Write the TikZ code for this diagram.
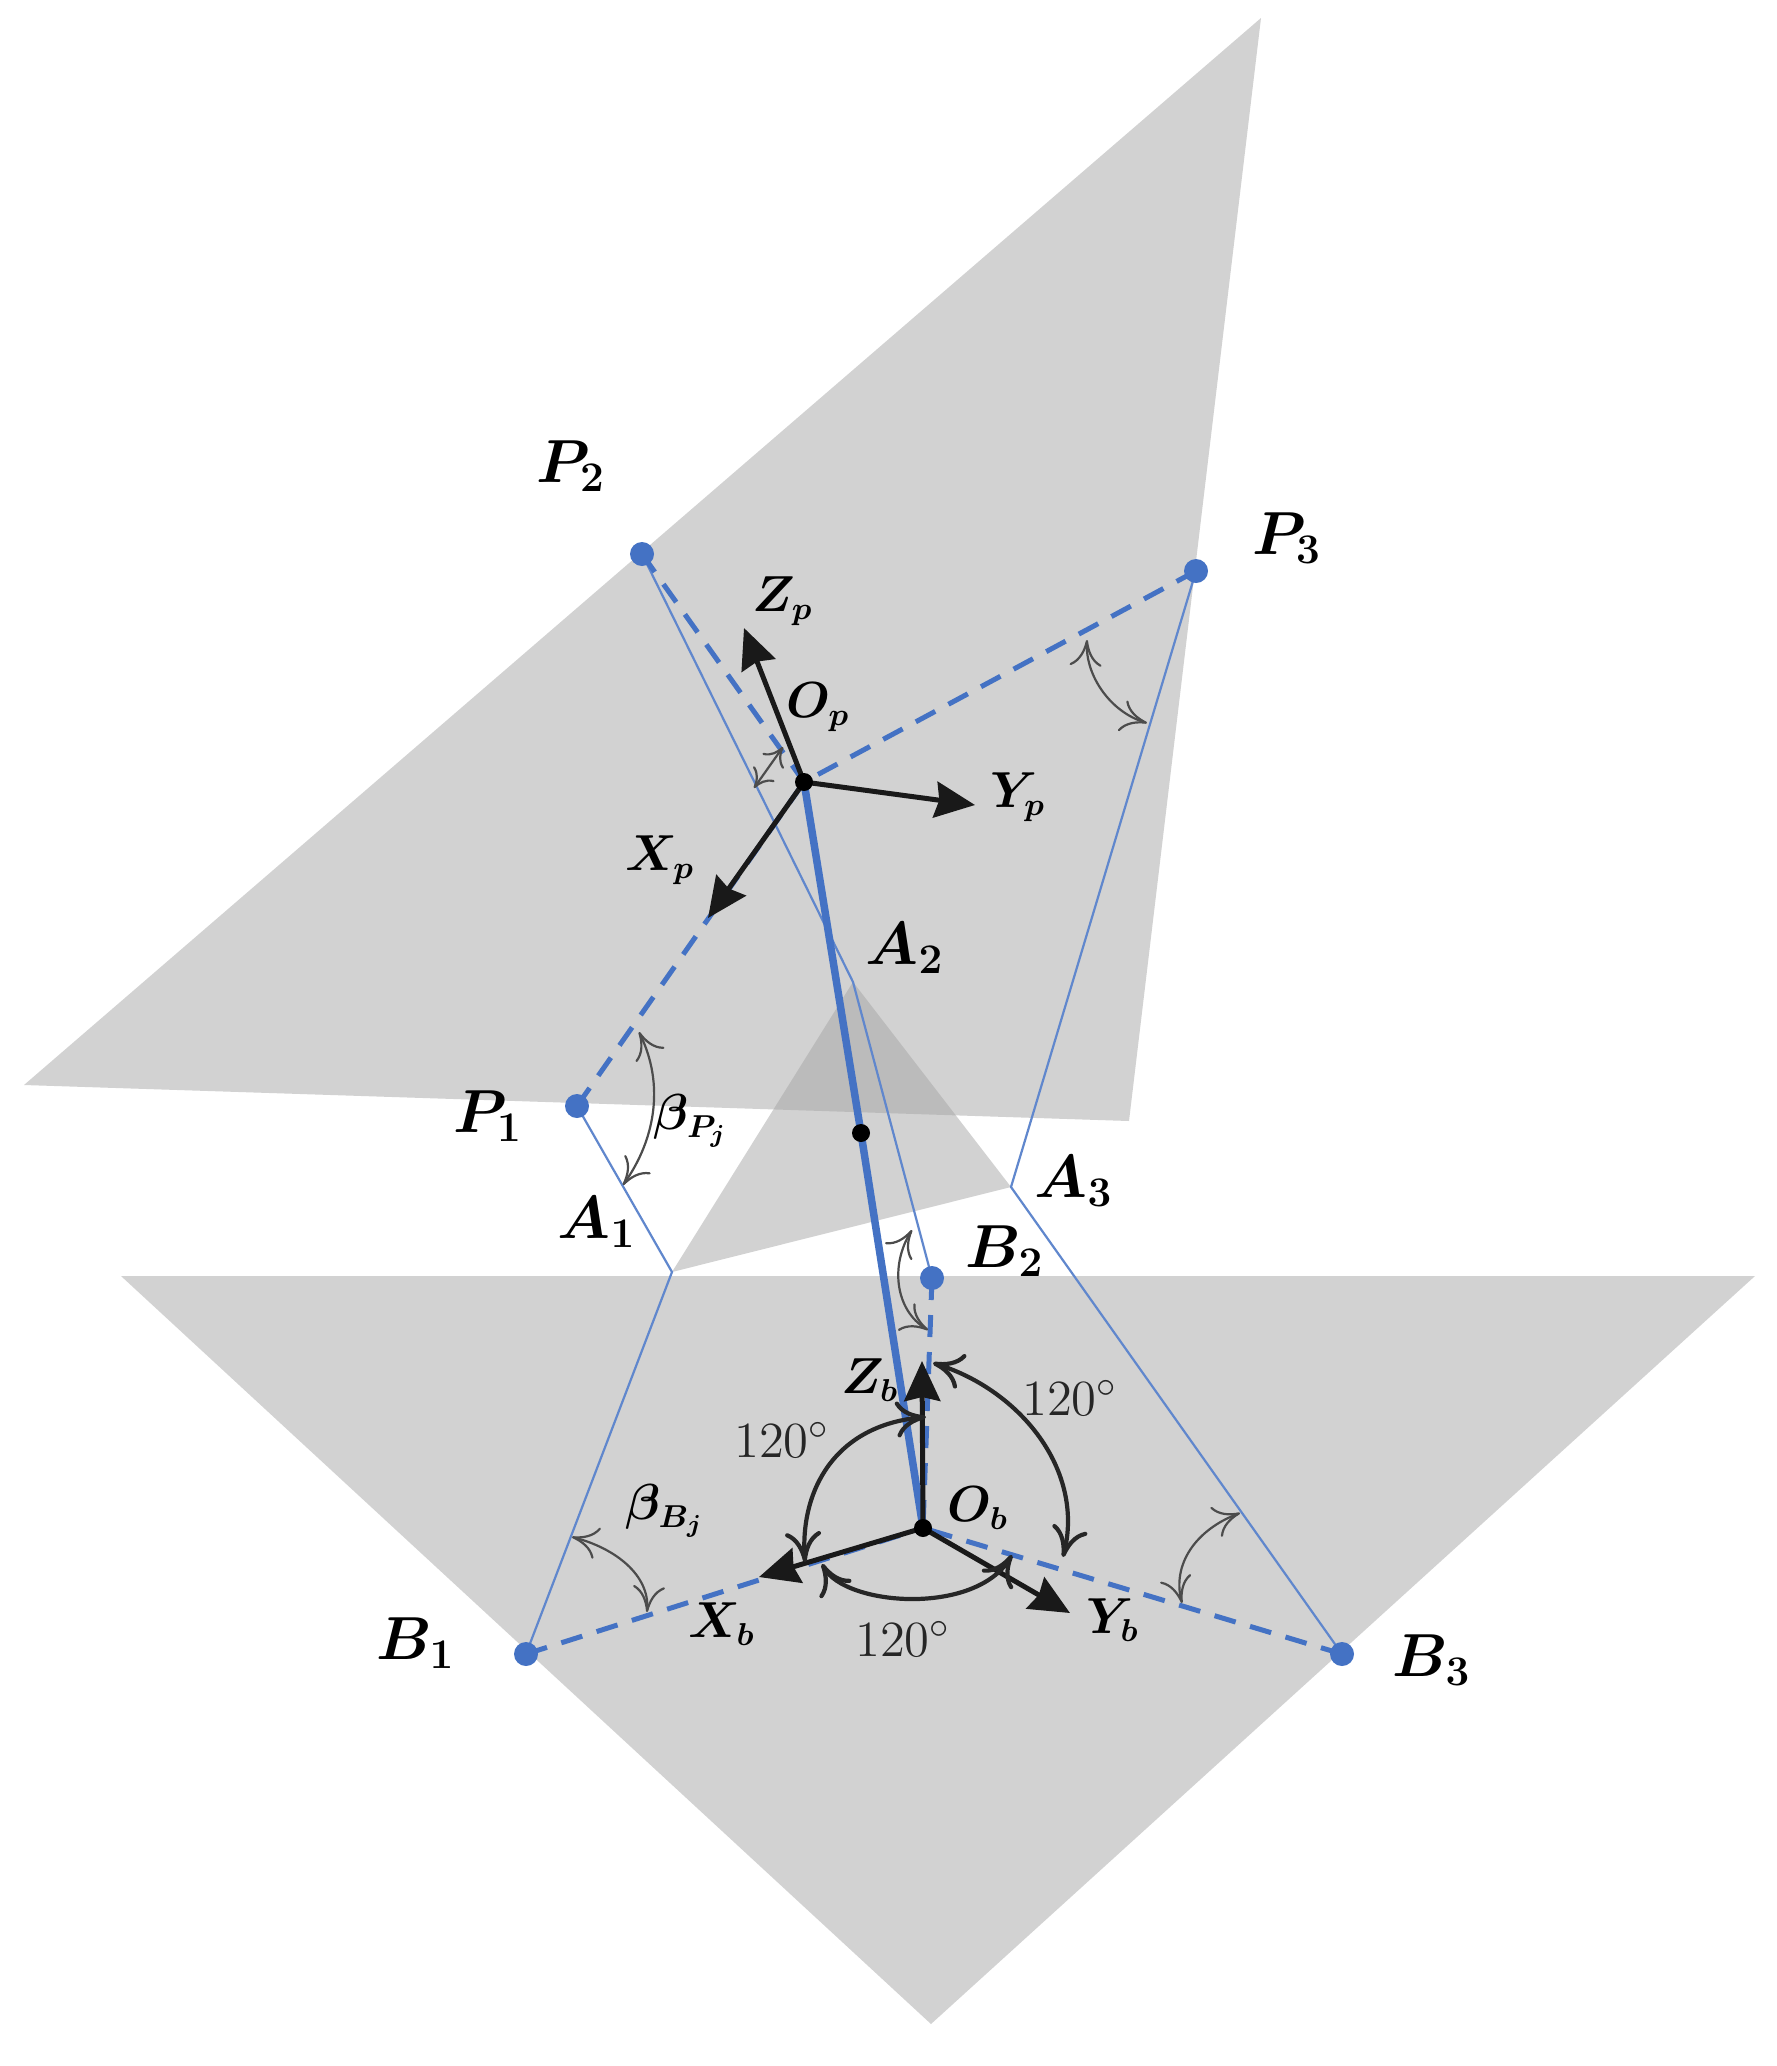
\documentclass[tikz,border=0pt]{standalone}
\usepackage{bm}
\usetikzlibrary{arrows.meta}
\definecolor{platefill}{HTML}{D2D2D2}
\definecolor{plateover}{HTML}{BBBBBB}
\definecolor{legblue}{HTML}{4472C4}
\tikzset{
	plate/.style={fill=platefill},
	thinleg/.style={color=legblue!85, line width=0.22mm},
	dashleg/.style={color=legblue, line width=0.5mm, dash pattern=on 2.2mm off 1.5mm},
	mainleg/.style={color=legblue, line width=0.75mm},
	axisarrow/.style={-{Stealth[length=4mm,width=3.6mm,inset=0.4mm]}, line width=0.5mm, color=black!90},
	bigangle/.style={{To[length=3mm,width=3.6mm]}-{To[length=3mm,width=3.6mm]}, line width=0.42mm, color=black!85},
	smallangle/.style={{To[length=2.6mm,width=3.2mm]}-{To[length=2.6mm,width=3.2mm]}, line width=0.22mm, color=black!70},
	tinyangle/.style={{To[length=1.8mm,width=2.6mm]}-{To[length=1.8mm,width=2.6mm]}, line width=0.22mm, color=black!70},
	bigname/.style={font=\fontsize{16.5}{19}\selectfont},
	axisname/.style={font=\fontsize{13.5}{16}\selectfont},
	degname/.style={font=\fontsize{15}{17}\selectfont, color=black!85},
}
\begin{document}
\begin{tikzpicture}[x=0.01cm, y=-0.01cm]
		%%%%% START %%%%%
		\useasboundingbox (0, 0) rectangle (1777, 2066);
		\fill[white] (0, 0) rectangle (1777, 2066);
		
		\coordinate (P1) at (577, 1106);
		\coordinate (P2) at (642, 554);
		\coordinate (P3) at (1196, 571);
		\coordinate (A1) at (672, 1272);
		\coordinate (A2) at (853, 982);
		\coordinate (A3) at (1011, 1187);
		\coordinate (B1) at (526, 1654);
		\coordinate (B2) at (932, 1278);
		\coordinate (B3) at (1342, 1654);
		\coordinate (Op) at (804, 782);
		\coordinate (Ob) at (923, 1528);
		\coordinate (Mid) at (861, 1133);
		
		% plates
		\fill[plate] (1261, 18) -- (24, 1085) -- (1129, 1121) -- cycle;
		\fill[plate] (121, 1276) -- (1755, 1276) -- (931, 2024) -- cycle;
		\fill[plate] (A2) -- (A1) -- (A3) -- cycle;
		\begin{scope}
			\clip (1261, 18) -- (24, 1085) -- (1129, 1121) -- cycle;
			\fill[plateover] (A2) -- (A1) -- (A3) -- cycle;
		\end{scope}
		
		% legs
		\draw[thinleg] (P1) -- (A1) -- (B1);
		\draw[thinleg] (P2) -- (A2) -- (B2);
		\draw[thinleg] (P3) -- (A3) -- (B3);
		\draw[dashleg] (P1) -- (Op);
		\draw[dashleg] (P2) -- (Op);
		\draw[dashleg] (P3) -- (Op);
		\draw[dashleg] (B1) -- (Ob);
		\draw[dashleg] (B2) -- (Ob);
		\draw[dashleg] (B3) -- (Ob);
		\draw[mainleg] (Op) -- (Mid) -- (Ob);
		
		% frames
		\coordinate (Xptip) at (708, 918);
		\coordinate (Yptip) at (975, 805);
		\coordinate (Zptip) at (744, 628);
		\coordinate (Xbtip) at (759, 1577);
		\coordinate (Ybtip) at (1070, 1613);
		\coordinate (Zbtip) at (922, 1361);
		\draw[axisarrow] (Op) -- (Xptip);
		\draw[axisarrow] (Op) -- (Yptip);
		\draw[axisarrow] (Op) -- (Zptip);
		\draw[axisarrow] (Ob) -- (Xbtip);
		\draw[axisarrow] (Ob) -- (Ybtip);
		\draw[axisarrow] (Ob) -- (Zbtip);
		
		% angles
		\draw[bigangle] (805, 1562) .. controls (800, 1490) and (835, 1425) .. (926, 1417);
		\draw[bigangle] (933, 1363) .. controls (1020, 1390) and (1085, 1470) .. (1063, 1557);
		\draw[bigangle] (822, 1564) .. controls (845, 1606) and (975, 1616) .. (1012, 1555);
		\draw[smallangle] (1087, 640) .. controls (1085, 675) and (1110, 712) .. (1147, 723);
		\draw[smallangle] (639, 1032) .. controls (665, 1085) and (655, 1140) .. (623, 1185);
		\draw[smallangle] (912, 1230) .. controls (890, 1265) and (895, 1310) .. (928, 1330);
		\draw[tinyangle] (783, 747) -- (754, 788);
		\draw[smallangle] (572, 1537) .. controls (615, 1548) and (650, 1575) .. (647, 1612);
		\draw[smallangle] (1240, 1513) .. controls (1195, 1530) and (1172, 1565) .. (1182, 1603);
		
		% joints
		\foreach \pt in {P1, P2, P3, B1, B2, B3}
			\fill[legblue] (\pt) circle (12);
		\foreach \pt in {Op, Ob, Mid}
			\fill[black] (\pt) circle (9);
		
		% labels
		\node[bigname] (lP1) at (488, 1116) {$\bm{P_1}$};
		\node[bigname] (lP2) at (571, 466) {$\bm{P_2}$};
		\node[bigname] (lP3) at (1287, 538) {$\bm{P_3}$};
		\node[bigname] (lA1) at (597, 1222) {$\bm{A_1}$};
		\node[bigname] (lA2) at (905, 948) {$\bm{A_2}$};
		\node[bigname] (lA3) at (1074, 1181) {$\bm{A_3}$};
		\node[bigname] (lB1) at (416, 1643) {$\bm{B_1}$};
		\node[bigname] (lB2) at (1005, 1251) {$\bm{B_2}$};
		\node[bigname] (lB3) at (1432, 1660) {$\bm{B_3}$};
		\node[axisname] (lZp) at (783, 601) {$\bm{Z_p}$};
		\node[axisname] (lOp) at (818, 707) {$\bm{O_p}$};
		\node[axisname] (lYp) at (1018, 797) {$\bm{Y_p}$};
		\node[axisname] (lXp) at (660, 860) {$\bm{X_p}$};
		\node[axisname] (lZb) at (870, 1380) {$\bm{Z_b}$};
		\node[axisname] (lOb) at (978, 1508) {$\bm{O_b}$};
		\node[axisname] (lXb) at (722, 1624) {$\bm{X_b}$};
		\node[axisname] (lYb) at (1113, 1620) {$\bm{Y_b}$};
		\node[axisname] (lbp) at (691, 1121) {$\bm{\beta_{P_j}}$};
		\node[axisname] (lbb) at (665, 1511) {$\bm{\beta_{B_j}}$};
		\node[degname] (dega) at (1070, 1398) {$120^\circ$};
		\node[degname] (degb) at (782, 1440) {$120^\circ$};
		\node[degname] (degc) at (903, 1639) {$120^\circ$};
		
		%%%%% END %%%%%
	\end{tikzpicture}
\end{document}
